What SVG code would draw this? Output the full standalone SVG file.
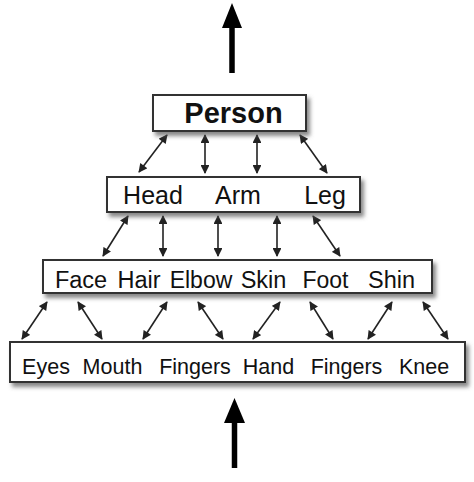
<svg xmlns="http://www.w3.org/2000/svg" width="474" height="482" viewBox="0 0 474 482">
<defs>
<style>
.box{fill:#fff;stroke:#333;stroke-width:2}
.t{font-family:"Liberation Sans",Arial,sans-serif;fill:#111;text-anchor:middle}
.c{stroke:#222;stroke-width:1.6;fill:none;marker-start:url(#ah);marker-end:url(#ah)}
</style>
<marker id="ah" viewBox="0 0 10 10" refX="9" refY="5" markerWidth="6" markerHeight="5.5" orient="auto-start-reverse" markerUnits="strokeWidth">
<path d="M0,0 L10,5 L0,10 z" fill="#222"/>
</marker>
<filter id="sh" x="-10%" y="-30%" width="130%" height="180%">
<feDropShadow dx="3" dy="4" stdDeviation="2" flood-color="#555" flood-opacity="0.7"/>
</filter>
</defs>
<rect width="474" height="482" fill="#fff"/>
<g id="arrow-top">
<line x1="232" y1="73" x2="232" y2="24" stroke="#000" stroke-width="5.5"/>
<path d="M232,3 L242,28 L222,28 z" fill="#000"/>
</g>
<g id="arrow-bottom">
<line x1="234.5" y1="468" x2="234.5" y2="419" stroke="#000" stroke-width="5.5"/>
<path d="M234.5,398 L245,423 L224,423 z" fill="#000"/>
</g>
<g id="connectors">
<line class="c" x1="167" y1="135" x2="139" y2="172"/>
<line class="c" x1="205" y1="135" x2="205" y2="173"/>
<line class="c" x1="257" y1="135" x2="257" y2="173"/>
<line class="c" x1="300" y1="135" x2="327" y2="173"/>
<line class="c" x1="128" y1="216" x2="103" y2="256"/>
<line class="c" x1="163" y1="216" x2="163" y2="256"/>
<line class="c" x1="218" y1="216" x2="218" y2="256"/>
<line class="c" x1="277" y1="216" x2="277" y2="256"/>
<line class="c" x1="313" y1="216" x2="340" y2="256"/>
<line class="c" x1="47" y1="302" x2="22" y2="339"/>
<line class="c" x1="78" y1="302" x2="102" y2="339"/>
<line class="c" x1="167" y1="302" x2="143" y2="339"/>
<line class="c" x1="198" y1="302" x2="223" y2="339"/>
<line class="c" x1="280" y1="302" x2="253" y2="339"/>
<line class="c" x1="310" y1="302" x2="333" y2="339"/>
<line class="c" x1="392" y1="302" x2="368" y2="339"/>
<line class="c" x1="423" y1="302" x2="448" y2="339"/>
</g>
<g id="person">
<rect class="box" x="153" y="95" width="153" height="36" filter="url(#sh)"/>
<text class="t" x="233.5" y="123" font-size="29" font-weight="bold">Person</text>
</g>
<g id="level2">
<rect class="box" x="107" y="177" width="253" height="35" filter="url(#sh)"/>
<text class="t" x="153" y="204" font-size="25">Head</text>
<text class="t" x="238" y="204" font-size="25">Arm</text>
<text class="t" x="325" y="204" font-size="25">Leg</text>
</g>
<g id="level3">
<rect class="box" x="43" y="260" width="389" height="33" filter="url(#sh)"/>
<text class="t" x="81" y="288" font-size="23.5">Face</text>
<text class="t" x="139" y="288" font-size="23.5">Hair</text>
<text class="t" x="201" y="288" font-size="23">Elbow</text>
<text class="t" x="263.5" y="288" font-size="23.5">Skin</text>
<text class="t" x="325.5" y="288" font-size="23">Foot</text>
<text class="t" x="391.5" y="288" font-size="23.5">Shin</text>
</g>
<g id="level4">
<rect class="box" x="10" y="342" width="455" height="40" filter="url(#sh)"/>
<text class="t" x="46" y="374" font-size="21.5">Eyes</text>
<text class="t" x="112.5" y="374" font-size="21.5">Mouth</text>
<text class="t" x="195" y="374" font-size="21.5">Fingers</text>
<text class="t" x="268.5" y="374" font-size="21.5">Hand</text>
<text class="t" x="346.5" y="374" font-size="21.5">Fingers</text>
<text class="t" x="424" y="374" font-size="21.5">Knee</text>
</g>
</svg>
